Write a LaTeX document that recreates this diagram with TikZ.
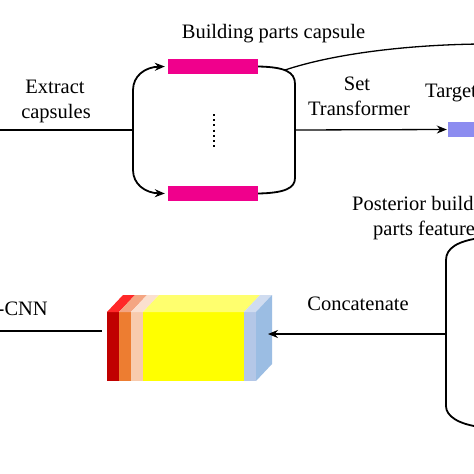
\documentclass[tikz,border=0pt]{standalone}
\usepackage{fontspec}
\setmainfont{Liberation Serif}
\usetikzlibrary{arrows.meta}
\definecolor{pinkbar}{RGB}{240,0,140}
\definecolor{lavbar}{RGB}{140,140,240}
\definecolor{cA}{RGB}{192,0,0}
\definecolor{cAt}{RGB}{255,40,40}
\definecolor{cB}{RGB}{237,125,49}
\definecolor{cBt}{RGB}{244,165,130}
\definecolor{cC}{RGB}{248,203,173}
\definecolor{cCt}{RGB}{251,224,208}
\definecolor{cD}{RGB}{255,255,0}
\definecolor{cDt}{RGB}{255,255,110}
\definecolor{cE}{RGB}{180,199,231}
\definecolor{cEt}{RGB}{208,220,240}
\definecolor{cS}{RGB}{155,189,227}
\begin{document}
\begin{tikzpicture}[x=1pt,y=-1pt,
  txt/.style={font=\fontsize{20.5}{24}\selectfont, inner sep=0pt},
  thinline/.style={line width=1.3pt},
  br/.style={line width=1.8pt},
  arr/.style={line width=1.3pt, -{Stealth[length=10pt,width=8pt]}},
  brarr/.style={line width=1.8pt, -{Stealth[length=10pt,width=8pt]}},
  bar/.style={rectangle, inner sep=0pt, draw=none}]
\useasboundingbox (0,0) rectangle (474,474);
\clip (0,0) rectangle (474,474);
\fill[white] (0,0) rectangle (474,474);

% capsule bars
\node[bar, fill=pinkbar, minimum width=90pt, minimum height=15pt] (bar1) at (213,66.5) {};
\node[bar, fill=pinkbar, minimum width=90pt, minimum height=15pt] (bar2) at (213,193.5) {};
\node[bar, fill=lavbar, minimum width=60pt, minimum height=15pt] (tgt) at (478,129.5) {};

% extract capsules
\coordinate (in) at (0,130);
\coordinate (split) at (133,130);
\draw[thinline] (in) -- (split);
\draw[brarr] (split) -- (133,90) .. controls (133,76) and (145,67) .. ([xshift=-3pt]bar1.west);
\draw[brarr] (split) -- (133,170) .. controls (133,184) and (145,193) .. ([xshift=-3pt]bar2.west);

% dots
\draw[line width=2.2pt, dash pattern=on 2pt off 3.2pt] (214,114) -- (214,147);

% right bracket
\draw[br] (bar1.east) .. controls (285,67) and (295,72) .. (295,84) -- (295,178)
  .. controls (295,188) and (285,193) .. (bar2.east);
\coordinate (mid) at (295,130);
\draw[arr] (mid) -- ([xshift=-1pt]tgt.west);
\coordinate (branch) at (285,70);
\coordinate (outR) at (480,44);
\draw[thinline] (branch) .. controls (330,55) and (400,45) .. (outR);

% cylinder
\draw[br] (480,238) .. controls (458,241) and (446,248) .. (446,260) -- (446,406)
  .. controls (446,416) and (458,424) .. (480,427);
\coordinate (cyl) at (446,334);

% cube
\fill[cA] (107,312) rectangle (119,381);
\fill[cB] (119,312) rectangle (131,381);
\fill[cC] (131,312) rectangle (143,381);
\fill[cD] (143,312) rectangle (244,381);
\fill[cE] (244,312) rectangle (256,381);
\fill[cAt] (107,312) -- (119,312) -- (135,295) -- (123,295) -- cycle;
\fill[cBt] (119,312) -- (131,312) -- (147,295) -- (135,295) -- cycle;
\fill[cCt] (131,312) -- (143,312) -- (159,295) -- (147,295) -- cycle;
\fill[cDt] (143,312) -- (244,312) -- (260,295) -- (159,295) -- cycle;
\fill[cEt] (244,312) -- (256,312) -- (272,295) -- (260,295) -- cycle;
\fill[cS] (256,312) -- (272,295) -- (272,364) -- (256,381) -- cycle;
\coordinate (cubein) at (268,334);
\coordinate (cubeL) at (102,331);
\coordinate (cnn) at (0,331);

\draw[arr] (cyl) -- (cubein);
\draw[thinline] (cnn) -- (cubeL);

% texts
\node[txt, anchor=base] (tbp) at (273.5,38) {Building parts capsule};
\node[txt, anchor=base] (tex1) at (55,93) {Extract};
\node[txt, anchor=base] (tex2) at (56,118) {capsules};
\node[txt, anchor=base] (tst1) at (357,90) {Set};
\node[txt, anchor=base] (tst2) at (359,115) {Transformer};
\node[txt, anchor=base west] (ttg) at (425,97) {Target building parts};
\node[txt, anchor=base west] (tpo1) at (352,210) {Posterior building};
\node[txt, anchor=base west] (tpo2) at (373,235) {parts features};
\node[txt, anchor=base east] (tcnn) at (48,315) {Mask R-CNN};
\node[txt, anchor=base] (tcat) at (358,310) {Concatenate};
\end{tikzpicture}
\end{document}
